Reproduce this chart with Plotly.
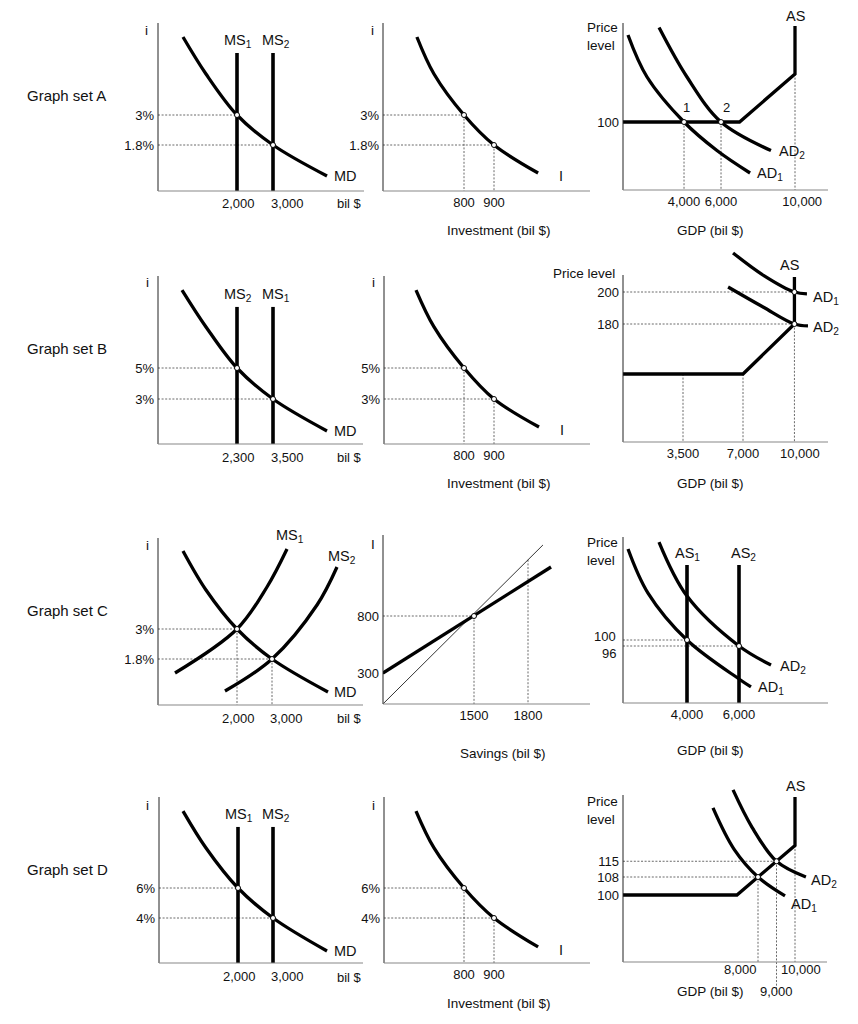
import numpy as np
import plotly.graph_objects as go

# page body keeps its default 8px margin, so the figure is drawn 8px in from the window edge
OFF = 8
W, H = 858 - 2 * OFF, 1024 - 2 * OFF
FONT = "Liberation Sans, Arial, Helvetica, sans-serif"
NB = "\u00a0"

# ---------------- data ----------------
# Graph set A
a_rates = [3.0, 1.8]
a_money = [2000, 3000]
a_money_text = ["2,000", "3,000"]
a_ms_top = 5.48
a_md_x = [500, 1139, 2000, 3000, 4500]
a_md_y = [6.12, 4.64, 3.0, 1.8, 0.56]
a_invest = [800, 900]
a_inv_x = [643, 700, 800, 900, 1047]
a_inv_y = [6.12, 4.64, 3.0, 1.8, 0.68]
a_gdp = [4000, 6000]
a_price = [100, 100]
a_as_x = [700, 7000, 10000, 10000]
a_as_y = [100, 100, 132, 164]
a_ad1_x = [970, 2000, 4000, 5780, 7570]
a_ad1_y = [158, 130, 100, 81, 66]
a_ad2_x = [2650, 4160, 6000, 8700]
a_ad2_y = [163, 130, 100, 81]

# Graph set B
b_rates = [5.0, 3.0]
b_money = [2300, 3500]
b_money_text = ["2,300", "3,500"]
b_ms_top = 8.94
b_md_x = [467, 1267, 2300, 3500, 5300]
b_md_y = [10.03, 7.65, 5.0, 3.0, 0.94]
b_invest = [800, 900]
b_inv_x = [640, 700, 800, 900, 1050]
b_inv_y = [10.03, 7.65, 5.0, 3.0, 1.19]
b_gdp_ticks = [3500, 7000, 10000]
b_price = [200, 180]
b_as_x = [0, 7000, 10000, 10000]
b_as_y = [148.75, 148.75, 180, 209.4]
b_ad1_x = [6420, 8170, 10000, 10730]
b_ad1_y = [224.4, 210.6, 200, 198.8]
b_ad2_x = [6130, 8170, 10000, 10790]
b_ad2_y = [203.1, 190.6, 180, 178.8]

# Graph set C
c_rates = [3.0, 1.8]
c_money = [2000, 3000]
c_money_text = ["2,000", "3,000"]
c_md_x = [457, 1114, 2000, 3000, 4600]
c_md_y = [6.12, 4.56, 3.0, 1.8, 0.48]
c_ms1_x = [229, 2000, 2857, 3429]
c_ms1_y = [1.24, 3.0, 4.68, 6.2]
c_ms2_x = [1657, 3000, 4286, 4857]
c_ms2_y = [0.52, 1.8, 3.96, 5.48]
c_savings = [1500, 1800]
c_inv_ticks = [300, 800]
c_45_x = [994, 1883]
c_45_y = [28, 1423]
c_is_x = [994, 1500, 1928]
c_is_y = [300, 800, 1230]
c_gdp = [4000, 6000]
c_price = [100, 96]
c_as_top = 150
c_ad1_x = [1731, 2500, 4000, 6000, 6460]
c_ad1_y = [160.7, 131.3, 100, 74, 68.7]
c_ad2_x = [2923, 4000, 6000, 7231]
c_ad2_y = [165.3, 129.3, 96, 83.3]

# Graph set D
d_rates = [6.0, 4.0]
d_money = [2000, 3000]
d_money_text = ["2,000", "3,000"]
d_ms_top = 10.07
d_md_x = [429, 1086, 2000, 3000, 4543]
d_md_y = [11.13, 8.67, 6.0, 4.0, 1.8]
d_invest = [800, 900]
d_inv_x = [640, 700, 800, 900, 1047]
d_inv_y = [11.13, 8.67, 6.0, 4.0, 2.07]
d_gdp = [8000, 9000]
d_price = [108, 115]
d_price_ticks = [100, 108, 115]
d_as_x = [700, 6860, 10000, 10000]
d_as_y = [100, 100, 122, 143.6]
d_ad1_x = [5565, 6700, 8000, 9460]
d_ad1_y = [138.7, 120.4, 108, 99.6]
d_ad2_x = [6650, 7670, 9000, 10590]
d_ad2_y = [146.7, 130.2, 115, 108]

# ---------------- panel frames (pixel boxes + scale anchors) ----------------
pct = lambda v: [f"{x:g}%" for x in v]
panels = [
    dict(box=(158, 364, 191, 23), xa=(2000, 237, 3000, 273), ya=(1.8, 145, 3.0, 115),
         xt=([], []), yt=(a_rates, pct(a_rates))),
    dict(box=(383, 590, 191, 23), xa=(800, 464, 900, 494), ya=(1.8, 145, 3.0, 115),
         xt=(a_invest, ["800", "900"]), yt=(a_rates, pct(a_rates))),
    dict(box=(623, 828, 190, 23), xa=(700, 623, 10000, 795), ya=(100, 122, 150, 47),
         xt=([4000, 6000, 10000], ["4,000", "6,000", NB * 4 + "10,000"]), yt=([100], ["100"])),
    dict(box=(158, 363, 444, 276), xa=(2300, 237, 3500, 273), ya=(3.0, 399, 5.0, 368),
         xt=([], []), yt=(b_rates, pct(b_rates))),
    dict(box=(384, 590, 444, 276), xa=(800, 464, 900, 494), ya=(3.0, 399, 5.0, 368),
         xt=(b_invest, ["800", "900"]), yt=(b_rates, pct(b_rates))),
    dict(box=(623, 828, 442, 275), top=248, xa=(0, 623, 7000, 743), ya=(180, 324, 200, 292),
         xt=(b_gdp_ticks, ["3,500", "7,000", NB * 3 + "10,000"]), yt=(b_price, ["200", "180"])),
    dict(box=(158, 363, 705, 538), xa=(2000, 237, 3000, 272), ya=(1.8, 659, 3.0, 629),
         xt=([], []), yt=(c_rates, pct(c_rates))),
    dict(box=(383, 590, 704, 535), xa=(1500, 474, 1800, 528), ya=(300, 673, 800, 616),
         xt=(c_savings, ["1500", "1800"]), yt=(c_inv_ticks, ["300", "800"])),
    dict(box=(623, 828, 703, 537), xa=(4000, 687, 6000, 739), ya=(96, 646, 100, 640),
         xt=(c_gdp, ["4,000", "6,000"]), yt=([], [])),
    dict(box=(159, 363, 963, 797), xa=(2000, 238, 3000, 273), ya=(4.0, 918, 6.0, 888),
         xt=([], []), yt=(d_rates, pct(d_rates))),
    dict(box=(384, 590, 963, 797), xa=(800, 464, 900, 494), ya=(4.0, 918, 6.0, 888),
         xt=(d_invest, ["800", "900"]), yt=(d_rates, pct(d_rates))),
    dict(box=(623, 827, 962, 795), top=786, bot=995, xa=(700, 623, 10000, 795), ya=(108, 877, 100, 895),
         xt=([], []), yt=(d_price_ticks, [str(v) for v in d_price_ticks])),
]


def fx(px):
    return (px - OFF) / W


def fy(py):
    return 1 - (py - OFF) / H


def rng(lo, hi, anchors):
    v1, p1, v2, p2 = anchors
    s = (p2 - p1) / (v2 - v1)
    return [v1 + (lo - p1) / s, v1 + (hi - p1) / s]


fig = go.Figure()
layout = {}
shapes = []
for n, p in enumerate(panels, 1):
    L, R, B, T = p["box"]
    top, bot = p.get("top", T), p.get("bot", B)
    p["xr"] = rng(L, R, p["xa"])
    p["yr"] = rng(bot, top, p["ya"])
    p["y0"] = rng(B, B, p["ya"])[0]
    p["x0"] = p["xr"][0]
    sfx = "" if n == 1 else str(n)
    common = dict(showgrid=False, zeroline=False, showline=False, ticks="", tickangle=0,
                  automargin=False, tickfont=dict(size=13, color="#111"), fixedrange=True)
    layout["xaxis" + sfx] = dict(domain=[fx(L), fx(R)], range=p["xr"], anchor="y" + sfx,
                                 ticklabelstandoff=2,
                                 tickmode="array", tickvals=p["xt"][0], ticktext=p["xt"][1], **common)
    layout["yaxis" + sfx] = dict(domain=[fy(bot), fy(top)], range=p["yr"], anchor="x" + sfx,
                                 ticklabelstandoff=3,
                                 tickmode="array", tickvals=p["yt"][0], ticktext=p["yt"][1], **common)
    shapes.append(dict(type="line", xref="paper", yref="paper", x0=fx(L), x1=fx(L),
                       y0=fy(B), y1=fy(T), line=dict(color="#222", width=1)))
    shapes.append(dict(type="line", xref="paper", yref="paper", x0=fx(L), x1=fx(R),
                       y0=fy(B), y1=fy(B), line=dict(color="#888", width=1.2)))


def ref(n):
    return ("x", "y") if n == 1 else (f"x{n}", f"y{n}")


def curve(n, x, y, width=3.3, smooth=True):
    xr, yr = ref(n)
    fig.add_trace(go.Scatter(x=x, y=y, xaxis=xr, yaxis=yr, mode="lines", hoverinfo="skip",
                             line=dict(color="black", width=width,
                                       shape="spline" if smooth else "linear", smoothing=1.0)))


def guides(n, segs):
    xr, yr = ref(n)
    xs, ys = [], []
    for x0, y0, x1, y1 in segs:
        xs += [x0, x1, None]
        ys += [y0, y1, None]
    fig.add_trace(go.Scatter(x=xs, y=ys, xaxis=xr, yaxis=yr, mode="lines", hoverinfo="skip",
                             line=dict(color="#444", width=0.8, dash="2px,1.6px")))


def points(n, x, y):
    xr, yr = ref(n)
    fig.add_trace(go.Scatter(x=x, y=y, xaxis=xr, yaxis=yr, mode="markers", hoverinfo="skip",
                             cliponaxis=False,
                             marker=dict(size=5, color="white", line=dict(color="black", width=1))))


ann = []


def label(n, x, y, text, xs=0, ys=0, xanchor="center", size=14.5):
    xr, yr = ref(n)
    ann.append(dict(x=x, y=y, xref=xr, yref=yr, text=text, showarrow=False, xshift=xs, yshift=ys,
                    xanchor=xanchor, yanchor="middle", font=dict(size=size, color="#111")))


def plabel(px, py, text, size=13.5, xanchor="center", align="center"):
    ann.append(dict(x=fx(px), y=fy(py), xref="paper", yref="paper", text=text, showarrow=False,
                    xanchor=xanchor, yanchor="middle", align=align,
                    font=dict(size=size, color="#111")))


def xtick(n, v, text, py, xs=0, xanchor="center"):
    xr, _ = ref(n)
    ann.append(dict(x=v, y=fy(py), xref=xr, yref="paper", text=text, showarrow=False,
                    xanchor=xanchor, yanchor="middle", xshift=xs, font=dict(size=13, color="#111")))


def money_panel(n, rates, money, texts, ms_top, md_x, md_y, names):
    p = panels[n - 1]
    guides(n, [(p["x0"], r, m, r) for r, m in zip(rates, money)])
    for m in money:
        curve(n, [m, m], [p["y0"], ms_top], width=3.6, smooth=False)
    curve(n, md_x, md_y)
    points(n, money, rates)
    label(n, money[0], ms_top, names[0], xs=1, ys=12)
    label(n, money[1], ms_top, names[1], xs=3, ys=12)
    label(n, md_x[-1], md_y[-1], "MD", xs=5, xanchor="left")
    B = p["box"][2]
    for m, t, xs in zip(money, texts, [1, 14]):
        xtick(n, m, t, B + 13, xs=xs)


def invest_panel(n, rates, inv, cx, cy):
    p = panels[n - 1]
    guides(n, [(p["x0"], r, v, r) for r, v in zip(rates, inv)] +
           [(v, r, v, p["y0"]) for r, v in zip(rates, inv)])
    curve(n, cx, cy)
    points(n, inv, rates)
    label(n, cx[-1], cy[-1], "I", xs=23, ys=-3)


S1, S2 = "<sub>1</sub>", "<sub>2</sub>"

# ---- set A ----
money_panel(1, a_rates, a_money, a_money_text, a_ms_top, a_md_x, a_md_y, ["MS" + S1, "MS" + S2])
invest_panel(2, a_rates, a_invest, a_inv_x, a_inv_y)
p3 = panels[2]
guides(3, [(g, pr, g, p3["y0"]) for g, pr in zip(a_gdp, a_price)] +
       [(a_as_x[2], a_as_y[2], a_as_x[2], p3["y0"])])
curve(3, a_as_x, a_as_y, smooth=False)
curve(3, a_ad1_x, a_ad1_y)
curve(3, a_ad2_x, a_ad2_y)
points(3, a_gdp, a_price)
label(3, a_as_x[-1], a_as_y[-1], "AS", ys=10)
label(3, a_ad2_x[-1], a_ad2_y[-1], "AD" + S2, xs=6, ys=-2, xanchor="left")
label(3, a_ad1_x[-1], a_ad1_y[-1], "AD" + S1, xs=5, ys=-1, xanchor="left")
label(3, a_gdp[0], a_price[0], "1", xs=2, ys=14, size=13)
label(3, a_gdp[1], a_price[1], "2", xs=5, ys=14, size=13)

# ---- set B ----
money_panel(4, b_rates, b_money, b_money_text, b_ms_top, b_md_x, b_md_y, ["MS" + S2, "MS" + S1])
invest_panel(5, b_rates, b_invest, b_inv_x, b_inv_y)
p6 = panels[5]
guides(6, [(p6["x0"], pr, b_as_x[2], pr) for pr in b_price] +
       [(b_gdp_ticks[0], b_as_y[0], b_gdp_ticks[0], p6["y0"]),
        (b_as_x[1], b_as_y[1], b_as_x[1], p6["y0"]),
        (b_as_x[2], b_as_y[2], b_as_x[2], p6["y0"])])
curve(6, b_as_x, b_as_y, smooth=False)
curve(6, b_ad1_x, b_ad1_y)
curve(6, b_ad2_x, b_ad2_y)
points(6, [b_as_x[2]] * 2, b_price)
label(6, b_as_x[-1], b_as_y[-1], "AS", xs=-5, ys=12)
label(6, b_ad1_x[-1], b_ad1_y[-1], "AD" + S1, xs=4, ys=-4, xanchor="left")
label(6, b_ad2_x[-1], b_ad2_y[-1], "AD" + S2, xs=3, ys=-2, xanchor="left")

# ---- set C ----
p7 = panels[6]
guides(7, [(p7["x0"], r, m, r) for r, m in zip(c_rates, c_money)] +
       [(m, r, m, p7["y0"]) for r, m in zip(c_rates, c_money)])
curve(7, c_md_x, c_md_y)
curve(7, c_ms1_x, c_ms1_y)
curve(7, c_ms2_x, c_ms2_y)
points(7, c_money, c_rates)
label(7, c_ms1_x[-1], c_ms1_y[-1], "MS" + S1, xs=3, ys=13)
label(7, c_ms2_x[-1], c_ms2_y[-1], "MS" + S2, xs=5, ys=10)
label(7, c_md_x[-1], c_md_y[-1], "MD", xs=4, xanchor="left")
for m, t, xs in zip(c_money, c_money_text, [1, 14]):
    xtick(7, m, t, p7["box"][2] + 13, xs=xs)

p8 = panels[7]
y45 = float(np.interp(c_savings[1], c_45_x, c_45_y))
guides(8, [(p8["x0"], c_is_y[1], c_is_x[1], c_is_y[1]),
           (c_is_x[1], c_is_y[1], c_is_x[1], p8["y0"]),
           (c_savings[1], y45, c_savings[1], p8["y0"])])
curve(8, c_45_x, c_45_y, width=0.8, smooth=False)
curve(8, c_is_x, c_is_y, width=3.3, smooth=False)
points(8, [c_is_x[1]], [c_is_y[1]])

p9 = panels[8]
guides(9, [(p9["x0"], pr, g, pr) for g, pr in zip(c_gdp, c_price)])
for g in c_gdp:
    curve(9, [g, g], [p9["y0"], c_as_top], width=3.6, smooth=False)
curve(9, c_ad1_x, c_ad1_y)
curve(9, c_ad2_x, c_ad2_y)
points(9, c_gdp, c_price)
label(9, c_gdp[0], c_as_top, "AS" + S1, ys=11)
label(9, c_gdp[1], c_as_top, "AS" + S2, xs=4, ys=11)
label(9, c_ad2_x[-1], c_ad2_y[-1], "AD" + S2, xs=7, ys=-2, xanchor="left")
label(9, c_ad1_x[-1], c_ad1_y[-1], "AD" + S1, xs=5, ys=-1, xanchor="left")
for pr, dy in zip(c_price, [4, -7]):
    ann.append(dict(x=0, y=pr, xref="x9 domain", yref="y9", text=f"{pr:g}", showarrow=False,
                    xanchor="right", yanchor="middle", xshift=-5, yshift=dy,
                    font=dict(size=13, color="#111")))

# ---- set D ----
money_panel(10, d_rates, d_money, d_money_text, d_ms_top, d_md_x, d_md_y, ["MS" + S1, "MS" + S2])
invest_panel(11, d_rates, d_invest, d_inv_x, d_inv_y)
p12 = panels[11]
guides(12, [(p12["x0"], pr, g, pr) for g, pr in zip(d_gdp, d_price)] +
       [(d_gdp[0], d_price[0], d_gdp[0], p12["y0"]),
        (d_gdp[1], d_price[1], d_gdp[1], p12["yr"][0] + 1.5),
        (d_as_x[2], d_as_y[2], d_as_x[2], p12["y0"])])
curve(12, d_as_x, d_as_y, smooth=False)
curve(12, d_ad1_x, d_ad1_y)
curve(12, d_ad2_x, d_ad2_y)
points(12, d_gdp, d_price)
label(12, d_as_x[-1], d_as_y[-1], "AS", ys=11)
label(12, d_ad2_x[-1], d_ad2_y[-1], "AD" + S2, xs=3, ys=-4, xanchor="left")
label(12, d_ad1_x[-1], d_ad1_y[-1], "AD" + S1, xs=4, ys=-9, xanchor="left")
xtick(12, d_gdp[0], "8,000", 969, xs=1, xanchor="right")
xtick(12, d_as_x[2], "10,000", 969, xs=6)
xtick(12, d_gdp[1], "9,000", 991)

# ---- free text ----
for py, s in [(95, "A"), (348, "B"), (610, "C"), (869, "D")]:
    plabel(25, py, "Graph set " + s, size=15, xanchor="left")
for px, py, t in [(146, 30, "i"), (372, 30, "i"), (147, 283, "i"), (373, 283, "i"),
                  (147, 545, "i"), (373, 544, "I"), (147, 805, "i"), (373, 805, "i")]:
    plabel(px, py, t)
for py in [36, 551, 810]:
    plabel(585, py, "Price<br>level", xanchor="left", align="left")
plabel(617, 274, "Price level", xanchor="right")
for py in [204, 457, 718, 977]:
    plabel(364, py, "bil $", size=13, xanchor="right")
for py in [230, 483, 1003]:
    plabel(499, py, "Investment (bil $)")
plabel(503, 753, "Savings (bil $)")
for py in [230, 483, 750, 991]:
    plabel(710, py, "GDP (bil $)")

fig.update_layout(width=W, height=H, margin=dict(l=0, r=0, t=0, b=0), template="none",
                  paper_bgcolor="white", plot_bgcolor="rgba(0,0,0,0)", showlegend=False,
                  font=dict(family=FONT, color="#111"), hovermode=False,
                  shapes=shapes, annotations=ann, **layout)
fig.write_html("out.html")
